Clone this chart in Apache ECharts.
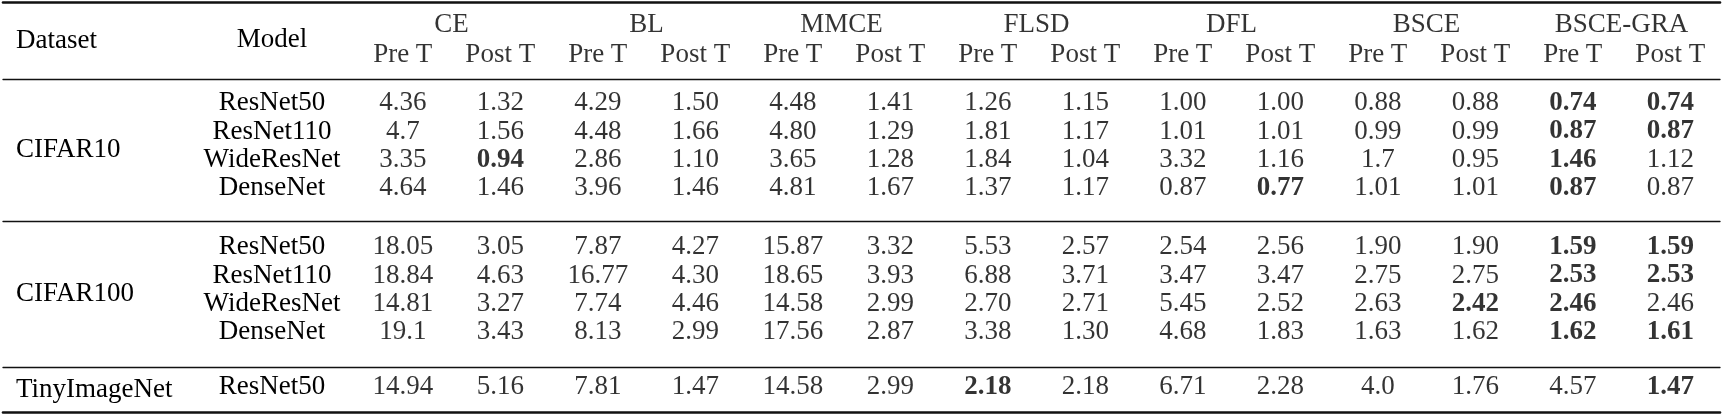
<!DOCTYPE html>
<html><head><meta charset="utf-8">
<script src="https://cdn.jsdelivr.net/npm/echarts@6/dist/echarts.min.js"></script>
<style>html,body{margin:0;padding:0;background:#fff}#c{width:1724px;height:415px}</style>
</head><body><div id="c"></div>
<script>
// ---------- data ----------
const methods = ['CE', 'BL', 'MMCE', 'FLSD', 'DFL', 'BSCE', 'BSCE-GRA'];
const subHeaders = ['Pre T', 'Post T'];
const headerLabels = ['Dataset', 'Model'];

const cifar10Models = ['ResNet50', 'ResNet110', 'WideResNet', 'DenseNet'];
const cifar10Values = [
  ['4.36', '1.32', '4.29', '1.50', '4.48', '1.41', '1.26', '1.15', '1.00', '1.00', '0.88', '0.88', '0.74', '0.74'],
  ['4.7',  '1.56', '4.48', '1.66', '4.80', '1.29', '1.81', '1.17', '1.01', '1.01', '0.99', '0.99', '0.87', '0.87'],
  ['3.35', '0.94', '2.86', '1.10', '3.65', '1.28', '1.84', '1.04', '3.32', '1.16', '1.7',  '0.95', '1.46', '1.12'],
  ['4.64', '1.46', '3.96', '1.46', '4.81', '1.67', '1.37', '1.17', '0.87', '0.77', '1.01', '1.01', '0.87', '0.87']
];
const cifar10Bold = [[0, 12], [0, 13], [1, 12], [1, 13], [2, 1], [2, 12], [3, 9], [3, 12]];

const cifar100Models = ['ResNet50', 'ResNet110', 'WideResNet', 'DenseNet'];
const cifar100Values = [
  ['18.05', '3.05', '7.87',  '4.27', '15.87', '3.32', '5.53', '2.57', '2.54', '2.56', '1.90', '1.90', '1.59', '1.59'],
  ['18.84', '4.63', '16.77', '4.30', '18.65', '3.93', '6.88', '3.71', '3.47', '3.47', '2.75', '2.75', '2.53', '2.53'],
  ['14.81', '3.27', '7.74',  '4.46', '14.58', '2.99', '2.70', '2.71', '5.45', '2.52', '2.63', '2.42', '2.46', '2.46'],
  ['19.1',  '3.43', '8.13',  '2.99', '17.56', '2.87', '3.38', '1.30', '4.68', '1.83', '1.63', '1.62', '1.62', '1.61']
];
const cifar100Bold = [[0, 12], [0, 13], [1, 12], [1, 13], [2, 11], [2, 12], [3, 12], [3, 13]];

const tinyModels = ['ResNet50'];
const tinyValues = [
  ['14.94', '5.16', '7.81', '1.47', '14.58', '2.99', '2.18', '2.18', '6.71', '2.28', '4.0', '1.76', '4.57', '1.47']
];
const tinyBold = [[0, 6], [0, 13]];

const datasetNames = ['CIFAR10', 'CIFAR100', 'TinyImageNet'];

// ---------- layout / style ----------
const FONT = 'Liberation Serif', FS = 27, INK = '#000', RULE = '#111';
const DATA_LEFT = 354, RIGHT = 5, FRAME_LEFT = 3, FRAME_RIGHT = 4, ROW_H = 28.3;
const HEADER_TOP = 10, HEADER_H = 60;
const frameSpans = [[2, 79], [79, 221], [221, 367], [367, 412]];
const blockTops = [89, 233, 373];

const columns = [];
methods.forEach(m => subHeaders.forEach(s => columns.push(m + ' ' + s)));

const blocks = [
  { name: datasetNames[0], models: cifar10Models, values: cifar10Values, bold: cifar10Bold },
  { name: datasetNames[1], models: cifar100Models, values: cifar100Values, bold: cifar100Bold },
  { name: datasetNames[2], models: tinyModels, values: tinyValues, bold: tinyBold }
];

const txt = { fontFamily: FONT, fontSize: FS, color: INK };
const grid = [], xAxis = [], yAxis = [], series = [];

function hiddenCat(gridIndex, data, extra) {
  return Object.assign({ type: 'category', gridIndex, data, show: false }, extra || {});
}
function ruleAxis(gridIndex, position, width) {
  return {
    type: 'category', gridIndex, position, data: [''],
    axisLine: { show: true, onZero: false, lineStyle: { color: RULE, width } },
    axisTick: { show: false }, axisLabel: { show: false }, splitLine: { show: false }
  };
}
function frameYAxis(gridIndex, label) {
  return {
    type: 'category', gridIndex, data: [label],
    axisLine: { show: false }, axisTick: { show: false }, splitLine: { show: false },
    axisLabel: Object.assign({ inside: true, margin: 13, align: 'left', verticalAlign: 'middle' }, txt)
  };
}
function textSeries(xi, yi, data) {
  return {
    type: 'scatter', xAxisIndex: xi, yAxisIndex: yi, symbolSize: 1,
    itemStyle: { color: 'rgba(0,0,0,0)' }, silent: true,
    label: Object.assign({ show: true, position: 'inside', formatter: '{b}' }, txt),
    data
  };
}

// header frame (rules + "Dataset")
let fg = grid.length;
grid.push({ left: FRAME_LEFT, right: FRAME_RIGHT, top: frameSpans[0][0], height: frameSpans[0][1] - frameSpans[0][0] });
xAxis.push(ruleAxis(fg, 'bottom', 1.3));
xAxis.push(ruleAxis(fg, 'top', 2.6));
yAxis.push(frameYAxis(fg, headerLabels[0]));

// header data grid
let hg = grid.length;
grid.push({ left: DATA_LEFT, right: RIGHT, top: HEADER_TOP, height: HEADER_H });
const hxCols = xAxis.length; xAxis.push(hiddenCat(hg, columns, { position: 'bottom' }));
const hxGroups = xAxis.length; xAxis.push(hiddenCat(hg, methods, { position: 'top' }));
const hy = yAxis.length;
yAxis.push({
  type: 'category', gridIndex: hg, data: ['group', 'sub'], inverse: true,
  axisLine: { show: false }, axisTick: { show: false }, axisLabel: { show: false }, splitLine: { show: false },
  name: headerLabels[1], nameLocation: 'middle', nameGap: 82, nameRotate: 0,
  nameTextStyle: Object.assign({ align: 'center', verticalAlign: 'middle' }, txt)
});
series.push(textSeries(hxGroups, hy, methods.map((m, i) => ({ value: [i, 0], name: m }))));
series.push(textSeries(hxCols, hy, columns.map((c, i) => ({ value: [i, 1], name: subHeaders[i % 2] }))));

// data blocks
blocks.forEach((b, bi) => {
  const span = frameSpans[bi + 1];
  const f = grid.length;
  grid.push({ left: FRAME_LEFT, right: FRAME_RIGHT, top: span[0], height: span[1] - span[0] });
  xAxis.push(ruleAxis(f, 'bottom', bi === blocks.length - 1 ? 2.6 : 1.3));
  yAxis.push(frameYAxis(f, b.name));

  const g = grid.length;
  grid.push({ left: DATA_LEFT, right: RIGHT, top: blockTops[bi], height: b.models.length * ROW_H });
  const xi = xAxis.length; xAxis.push(hiddenCat(g, columns));
  const yi = yAxis.length;
  yAxis.push({
    type: 'category', gridIndex: g, data: b.models, inverse: true,
    axisLine: { show: false }, axisTick: { show: false }, splitLine: { show: false },
    axisLabel: Object.assign({ interval: 0, align: 'center', margin: 82 }, txt)
  });
  const isBold = (r, c) => b.bold.some(p => p[0] === r && p[1] === c);
  const data = [];
  b.values.forEach((row, r) => row.forEach((v, c) => {
    const item = { value: [c, r], name: v };
    if (isBold(r, c)) item.label = { fontWeight: 'bold' };
    data.push(item);
  }));
  series.push(textSeries(xi, yi, data));
});

const chart = echarts.init(document.getElementById('c'), null, { renderer: 'canvas' });
chart.setOption({ animation: false, backgroundColor: '#fff', grid, xAxis, yAxis, series });
</script>
</body></html>
